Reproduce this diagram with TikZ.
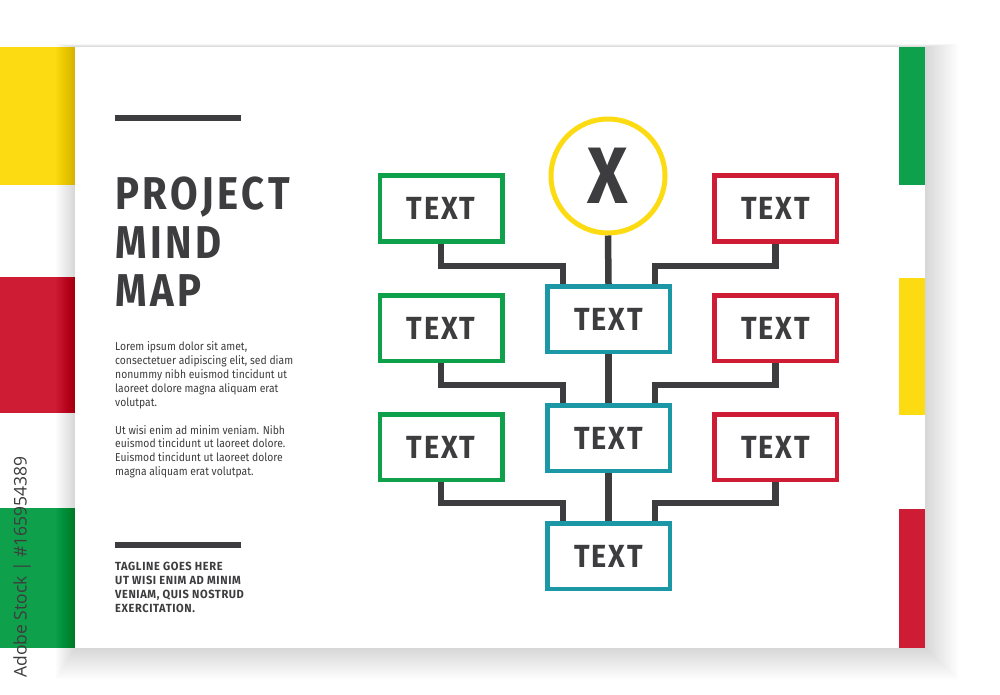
\documentclass[tikz,border=0pt]{standalone}
\usepackage{fontspec}
\setmainfont{Fira Sans}[FakeStretch=0.9]
\newfontfamily\titlefont{Fira Sans}[FakeStretch=0.87,LetterSpace=8]
\newfontfamily\xfont{Fira Sans}[FakeStretch=0.87]
\newfontfamily\boxfont{Fira Sans}[FakeStretch=0.9,LetterSpace=6]
\newfontfamily\tagfont{Fira Sans}[FakeStretch=0.94,LetterSpace=5]
\newfontfamily\wmfont{Open Sans}
\definecolor{ink}{HTML}{3D3D3F}
\definecolor{mgreen}{HTML}{0FA04B}
\definecolor{mred}{HTML}{CE1C34}
\definecolor{myellow}{HTML}{FDDB12}
\definecolor{mteal}{HTML}{1B97A6}
\tikzset{
  card/.style={fill=white},
  box/.style={rectangle,draw,line width=4.5pt,fill=white,minimum width=122.5pt,minimum height=65.5pt,inner sep=0pt,
    font=\boxfont\bfseries\fontsize{32}{32}\selectfont,text=ink},
  gbox/.style={box,draw=mgreen},
  rbox/.style={box,draw=mred},
  tbox/.style={box,draw=mteal},
  conn/.style={draw=ink,line width=6.5pt},
  rule/.style={draw=ink,line width=6.5pt},
  ttl/.style={anchor=base west,inner sep=0pt,text=ink,font=\titlefont\bfseries\fontsize{46}{46}\selectfont},
  body/.style={anchor=base west,inner sep=0pt,text=ink,align=left,font=\fontsize{11.5}{13.8}\selectfont},
  tag/.style={anchor=base west,inner sep=0pt,text=ink,align=left,font=\tagfont\bfseries\fontsize{11.8}{13.7}\selectfont}
}
\begin{document}
\begin{tikzpicture}[x=1pt,y=-1pt]
\useasboundingbox (0,0) rectangle (1000,695);
\fill[white] (0,0) rectangle (1000,695);
% left bars
\fill[myellow] (0,47) rectangle (75,185);
\fill[mred] (0,277) rectangle (75,413);
\fill[mgreen] (0,508) rectangle (75,648);
% shadow
\foreach \i in {1,...,40}
  \fill[black,opacity=0.005] (75-\i*0.5,47-\i*0.08) rectangle (925+\i*0.85,648+\i*0.8);
% card
\fill[card] (75,47) rectangle (925,648);
% right bars
\fill[mgreen] (899,47) rectangle (925,185);
\fill[myellow] (899,278) rectangle (925,415);
\fill[mred] (899,509) rectangle (925,648);
% watermark id
\node[rotate=90,text=ink,font=\wmfont\fontsize{17.5}{17.5}\selectfont,inner sep=0pt] (wm) at (22,567) {Adobe Stock | \#165954389};
% left column
\draw[rule] (115,118) -- (241,118);
\node[ttl] (t1line) at (115,209) {PROJECT};
\node[ttl] (t2line) at (115,258) {MIND};
\node[ttl] (t3line) at (115,306) {MAP};
\node[body] (p1) at (115,406) {Lorem ipsum dolor sit amet,\\consectetuer adipiscing elit, sed diam\\nonummy nibh euismod tincidunt ut\\laoreet dolore magna aliquam erat\\volutpat.};
\node[body] (p2) at (115,475.5) {Ut wisi enim ad minim veniam. Nibh\\euismod tincidunt ut laoreet dolore.\\Euismod tincidunt ut laoreet dolore\\magna aliquam erat volutpat.};
\draw[rule] (115,545) -- (241,545);
\node[tag] (tg) at (115,612) {TAGLINE GOES HERE\\UT WISI ENIM AD MINIM\\VENIAM, QUIS NOSTRUD\\EXERCITATION.};
% mind map
\node[circle,draw=myellow,line width=5pt,fill=white,minimum size=114pt,inner sep=0pt,text=ink,
  font=\xfont\bfseries\fontsize{80}{80}\selectfont] (x) at (608,176) {X};
\node[gbox] (g1) at (441,208.5) {TEXT};
\node[gbox] (g2) at (441,328) {TEXT};
\node[gbox] (g3) at (441,447) {TEXT};
\node[rbox] (r1) at (775.5,208.5) {TEXT};
\node[rbox] (r2) at (775.5,328) {TEXT};
\node[rbox] (r3) at (775.5,447) {TEXT};
\node[tbox] (c1) at (608.5,319) {TEXT};
\node[tbox] (c2) at (608.5,438) {TEXT};
\node[tbox] (c3) at (608.5,556) {TEXT};
% connectors
\draw[conn] (x.south) -- (c1.north);
\draw[conn] (c1.south) -- (c2.north);
\draw[conn] (c2.south) -- (c3.north);
\draw[conn] (g1.south) |- ([xshift=-45.5pt,yshift=18pt]c1.north) -- ([xshift=-45.5pt]c1.north);
\draw[conn] (r1.south) |- ([xshift=46.5pt,yshift=18pt]c1.north) -- ([xshift=46.5pt]c1.north);
\draw[conn] (g2.south) |- ([xshift=-45.5pt,yshift=18pt]c2.north) -- ([xshift=-45.5pt]c2.north);
\draw[conn] (r2.south) |- ([xshift=46.5pt,yshift=18pt]c2.north) -- ([xshift=46.5pt]c2.north);
\draw[conn] (g3.south) |- ([xshift=-45.5pt,yshift=18pt]c3.north) -- ([xshift=-45.5pt]c3.north);
\draw[conn] (r3.south) |- ([xshift=46.5pt,yshift=18pt]c3.north) -- ([xshift=46.5pt]c3.north);
\end{tikzpicture}
\end{document}
